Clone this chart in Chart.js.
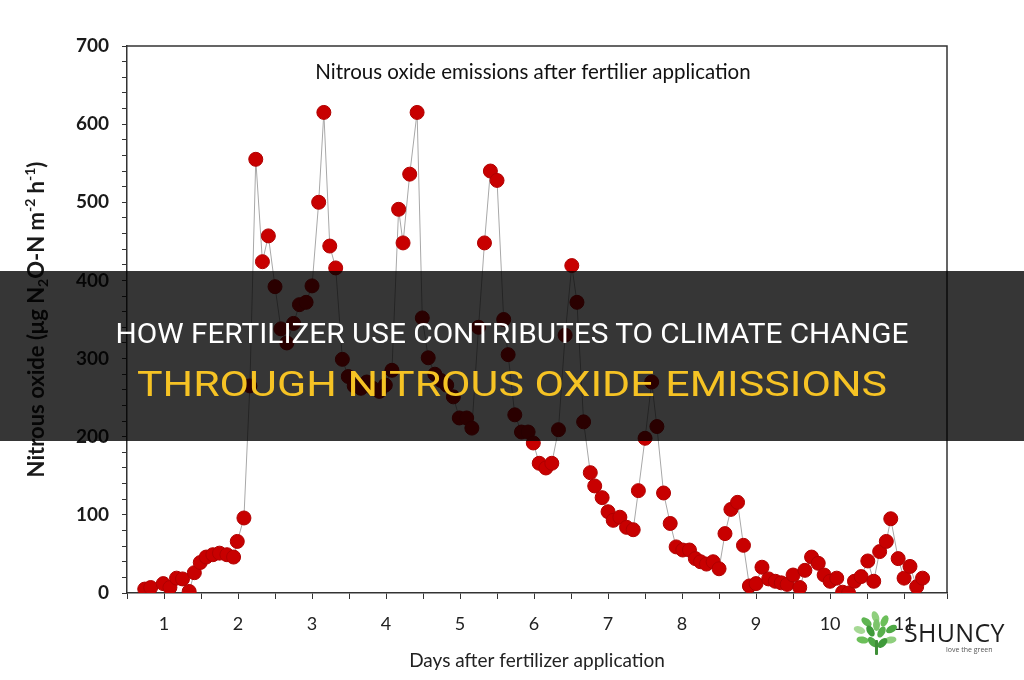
<!DOCTYPE html>
<html>
<head>
<meta charset="utf-8">
<title>Nitrous oxide emissions after fertilier application</title>
<script src="https://cdn.jsdelivr.net/npm/chart.js@4.4.1/dist/chart.umd.min.js"></script>
<style>
  html, body { margin: 0; padding: 0; background: #fff; }
  #wrap { position: relative; width: 1024px; height: 680px; overflow: hidden; }
  #chart { position: absolute; left: 0; top: 0; }
  .banner { position: absolute; left: 0; top: 271px; width: 1024px; height: 170px; background: rgba(0, 0, 0, 0.79); }
  .headline { position: absolute; left: 0; width: 1024px; text-align: center; white-space: nowrap; font-family: Roboto, sans-serif; }
  .headline span { display: inline-block; transform-origin: center; }
  #h1 { top: 320px; font-size: 28px; line-height: 28px; color: #ffffff; }
  #h2 { top: 367px; font-size: 35px; line-height: 35px; color: #f6c324; }
  .logo { position: absolute; left: 850px; top: 606px; width: 150px; height: 58px; }
  .leaf { position: absolute; width: 7px; height: 12px; border-radius: 50%; }
  .brand { position: absolute; left: 54px; top: 9px; font-family: "Open Sans", sans-serif; font-size: 25px; color: #1e1e1e; letter-spacing: 0.3px; }
  .tag { position: absolute; left: 96px; top: 39px; font-family: "Open Sans", sans-serif; font-size: 7px; color: #555; }
</style>
</head>
<body>
<div id="wrap">
  <canvas id="chart" width="1024" height="680"></canvas>
  <div class="banner"></div>
  <div class="headline" id="h1"><span>HOW FERTILIZER USE CONTRIBUTES TO CLIMATE CHANGE</span></div>
  <div class="headline" id="h2"><span>THROUGH NITROUS OXIDE EMISSIONS</span></div>
  <div class="logo" id="logo">
    <div class="brand">SHUNCY</div>
    <div class="tag">love the green</div>
  </div>
</div>
<script>
// readings from the picture: day after application, N2O flux
const days = [
  0.74, 0.82, 0.99, 1.08, 1.17, 1.25, 1.34, 1.41, 1.49, 1.57, 1.66, 1.75, 1.85, 1.94, 1.99,
  2.08, 2.16, 2.24, 2.33, 2.41, 2.50, 2.58, 2.66, 2.75, 2.83, 2.92, 3.00,
  3.09, 3.16, 3.24, 3.32, 3.41, 3.49, 3.57, 3.66, 3.74, 3.82, 3.91, 3.99,
  4.08, 4.17, 4.23, 4.32, 4.42, 4.49, 4.57, 4.66, 4.74, 4.82, 4.91, 4.99,
  5.09, 5.16, 5.25, 5.33, 5.41, 5.50, 5.59, 5.65, 5.74, 5.83, 5.92, 5.99,
  6.07, 6.16, 6.24, 6.33, 6.42, 6.51, 6.58, 6.67, 6.76, 6.82, 6.92, 7.00,
  7.07, 7.16, 7.25, 7.34, 7.41, 7.50, 7.59, 7.66, 7.75, 7.84, 7.92, 8.01,
  8.10, 8.18, 8.25, 8.33, 8.42, 8.50, 8.58, 8.66, 8.75, 8.83, 8.91, 9.00,
  9.08, 9.17, 9.26, 9.34, 9.42, 9.50, 9.59, 9.66, 9.75, 9.84, 9.92, 10.00,
  10.09, 10.17, 10.25, 10.33, 10.42, 10.51, 10.59, 10.67, 10.76, 10.82, 10.92, 11.00,
  11.08, 11.17, 11.25
];
const nitrousOxide = [
  5, 7, 12, 7, 19, 18, 2, 26, 39, 46, 49, 51, 49, 46, 66,
  96, 265, 555, 424, 457, 392, 338, 320, 345, 369, 372, 393,
  500, 615, 444, 416, 299, 277, 265, 262, 270, 262, 258, 266,
  285, 491, 448, 536, 615, 352, 301, 280, 272, 266, 251, 224,
  224, 211, 340, 448, 540, 528, 350, 305, 228, 206, 206, 192,
  166, 160, 166, 209, 330, 419, 372, 219, 154, 137, 122, 104,
  93, 97, 84, 81, 131, 198, 270, 213, 128, 89, 59, 55,
  55, 44, 40, 37, 40, 31, 76, 107, 116, 61, 9, 12,
  33, 18, 15, 13, 11, 23, 7, 29, 46, 38, 23, 15,
  19, 1, 0, 15, 21, 41, 15, 53, 66, 95, 44, 19,
  34, 8, 19
];
const xRange = [0.5, 11.58];
const yRange = [0, 700];
const chartTitle = 'Nitrous oxide emissions after fertilier application';
const xTitle = 'Days after fertilizer application';
const yTitleParts = [
  { t: 'Nitrous oxide (μg N', s: 0 },
  { t: '2', s: -1 },
  { t: 'O-N m', s: 0 },
  { t: '-2', s: 1 },
  { t: ' h', s: 0 },
  { t: '-1', s: 1 },
  { t: ')', s: 0 }
];

// box on top/right, title inside the plot, y title with sub/superscripts
const decorations = {
  id: 'decorations',
  afterDraw(chart) {
    const { ctx, chartArea: a } = chart;
    ctx.save();
    ctx.strokeStyle = '#333';
    ctx.lineWidth = 1.5;
    ctx.beginPath();
    ctx.moveTo(a.left, a.top);
    ctx.lineTo(a.right, a.top);
    ctx.lineTo(a.right, a.bottom);
    ctx.stroke();

    ctx.fillStyle = '#111';
    ctx.font = '20.5px Lato';
    ctx.textAlign = 'center';
    ctx.textBaseline = 'middle';
    ctx.fillText(chartTitle, (a.left + a.right) / 2 - 4, a.top + 26);

    // y title
    const big = 'bold 22px Lato', small = 'bold 14px Lato';
    let total = 0;
    yTitleParts.forEach(p => { ctx.font = p.s ? small : big; total += ctx.measureText(p.t).width; });
    ctx.translate(37, (a.top + a.bottom) / 2);
    ctx.rotate(-Math.PI / 2);
    ctx.textAlign = 'left';
    ctx.fillStyle = '#1a1a1a';
    let x = -total / 2;
    yTitleParts.forEach(p => {
      ctx.font = p.s ? small : big;
      const dy = p.s === -1 ? 6 : (p.s === 1 ? -7 : 0);
      ctx.fillText(p.t, x, dy);
      x += ctx.measureText(p.t).width;
    });
    ctx.restore();
  }
};

const ctx = document.getElementById('chart').getContext('2d');
new Chart(ctx, {
  type: 'line',
  data: {
    datasets: [{
      data: days.map((d, i) => ({ x: d, y: nitrousOxide[i] })),
      borderColor: '#a8a8a8',
      borderWidth: 1,
      backgroundColor: '#c80000',
      pointBackgroundColor: '#c80000',
      pointBorderColor: '#b00000',
      pointBorderWidth: 1,
      pointRadius: 7,
      tension: 0
    }]
  },
  options: {
    responsive: false,
    animation: false,
    layout: { padding: { top: 46, right: 77, bottom: 0, left: 0 } },
    plugins: { legend: { display: false }, tooltip: { enabled: false } },
    scales: {
      x: {
        type: 'linear',
        min: xRange[0],
        max: xRange[1],
        afterFit: (scale) => { scale.height = 87; },
        border: { color: '#333', width: 1.5 },
        grid: { drawOnChartArea: false, drawTicks: true, tickLength: 6, color: '#333' },
        ticks: {
          stepSize: 0.5,
          autoSkip: false,
          maxRotation: 0,
          padding: 14,
          color: '#222',
          font: { family: 'Lato', size: 18 },
          callback: (v) => Number.isInteger(v) ? v : ''
        },
        title: {
          display: true,
          text: xTitle,
          color: '#222',
          font: { family: 'Lato', size: 19 },
          padding: { top: 0, bottom: 8 }
        }
      },
      y: {
        min: yRange[0],
        max: yRange[1],
        afterFit: (scale) => { scale.width = 127; },
        border: { color: '#333', width: 1.5 },
        grid: { drawOnChartArea: false, drawTicks: true, tickLength: 5, color: '#333' },
        ticks: {
          stepSize: 20,
          autoSkip: false,
          padding: 13,
          color: '#1a1a1a',
          font: { family: 'Lato', size: 19, weight: 'bold' },
          callback: (v) => v % 100 === 0 ? v : ''
        }
      }
    }
  },
  plugins: [decorations]
});

// squeeze the headline text to the width it has in the picture
function fit(id, target) {
  const span = document.querySelector('#' + id + ' span');
  const w = span.getBoundingClientRect().width;
  span.style.transform = 'scaleX(' + (target / w) + ')';
}
fit('h1', 793);
fit('h2', 750);

// small tree mark next to the brand name
const leaves = [
  [22, 5, -20, '#8fcf7e'], [13, 10, -50, '#5fb552'], [31, 9, 25, '#6cbf5a'],
  [6, 18, -70, '#a6d995'], [38, 17, 60, '#4ea845'], [17, 19, -30, '#3f9a3a'],
  [28, 20, 30, '#58b04c'], [9, 28, -80, '#6cbf5a'], [37, 28, 80, '#8fcf7e'],
  [19, 30, -40, '#4ea845'], [29, 31, 45, '#3f9a3a'], [23, 13, 0, '#7cc46b']
];
const logo = document.getElementById('logo');
leaves.forEach(([lx, ly, rot, col]) => {
  const el = document.createElement('div');
  el.className = 'leaf';
  el.style.left = lx + 'px';
  el.style.top = ly + 'px';
  el.style.background = col;
  el.style.transform = 'rotate(' + rot + 'deg)';
  logo.appendChild(el);
});
const trunk = document.createElement('div');
trunk.style.cssText = 'position:absolute;left:25px;top:34px;width:3px;height:15px;background:#3f8f38;border-radius:1px;';
logo.appendChild(trunk);
</script>
</body>
</html>
